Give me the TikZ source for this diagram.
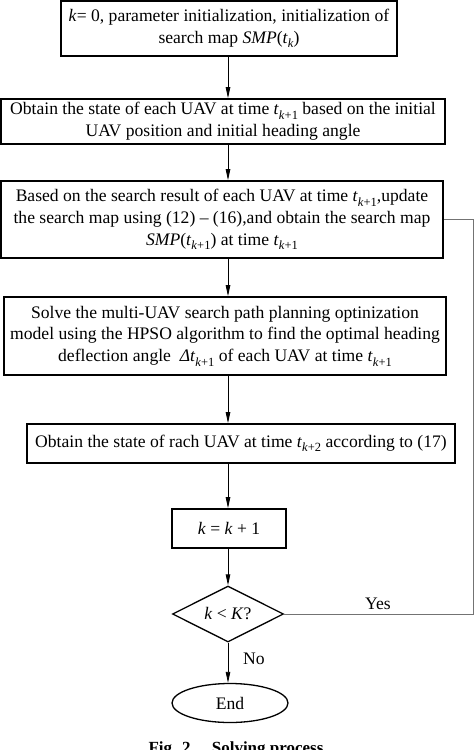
\documentclass[tikz,border=0pt]{standalone}
\usepackage{fontspec}
\setmainfont{Liberation Serif}
\usetikzlibrary{arrows.meta,shapes.geometric}
\newcommand{\iv}[1]{\textit{#1}}
\newcommand{\sub}[1]{\raisebox{-0.25em}{\fontsize{12.5}{14}\selectfont #1}}
\begin{document}
\begin{tikzpicture}[x=1pt,y=-1pt,
  every node/.style={font=\fontsize{17.6}{21.8}\selectfont},
  box/.style={draw, line width=1.6pt, align=center, inner sep=1pt},
  arr/.style={line width=0.8pt, -{Triangle[length=11pt,width=4.5pt]}},
  back/.style={line width=0.8pt, draw=black!55}]
\useasboundingbox (0,0) rectangle (474,750);
\coordinate (col) at (228,0);
\node[box, minimum width=336pt, minimum height=55pt] (b1) at (229,28.5)
  {\iv{k}= 0, parameter initialization, initialization of\\ search map \iv{SMP}(\iv{t}\sub{\iv{k}})};
\node[box, minimum width=444pt, minimum height=45pt] (b2) at (223,121.5)
  {Obtain the state of each UAV at time \iv{t}\sub{\iv{k}+1} based on the initial\\ UAV position and initial heading angle};
\node[box, minimum width=442pt, minimum height=77pt] (b3) at (222,219.5)
  {Based on the search result of each UAV at time \iv{t}\sub{\iv{k}+1},update\\ the search map using (12) – (16),and obtain the search map\\ \iv{SMP}(\iv{t}\sub{\iv{k}+1}) at time \iv{t}\sub{\iv{k}+1}};
\node[box, minimum width=442pt, minimum height=78pt] (b4) at (225,336)
  {Solve the multi-UAV search path planning optinization\\ model using the HPSO algorithm to find the optimal heading\\ deflection angle \ \iv{Δt}\sub{\iv{k}+1} of each UAV at time \iv{t}\sub{\iv{k}+1}};
\node[box, minimum width=428pt, minimum height=39pt] (b5) at (241,443.5)
  {Obtain the state of rach UAV at time \iv{t}\sub{\iv{k}+2} according to (17)};
\node[box, minimum width=114pt, minimum height=39pt] (b6) at (229,528.5)
  {\iv{k} = \iv{k} + 1};
\node[diamond, draw, line width=1.3pt, minimum width=111pt, minimum height=56pt, inner sep=0pt, aspect=2] (d) at (228,614)
  {\iv{k} < \iv{K}?};
\node[ellipse, draw, line width=1.3pt, minimum width=116pt, minimum height=39pt, inner sep=0pt] (e) at (230,703)
  {End};
\draw[arr] (b1.south -| col) -- (b2.north -| col);
\draw[arr] (b2.south -| col) -- (b3.north -| col);
\draw[arr] (b3.south -| col) -- (b4.north -| col);
\draw[arr] (b4.south -| col) -- (b5.north -| col);
\draw[arr] (b5.south -| col) -- (b6.north -| col);
\draw[arr] (b6.south -| col) -- (d.north);
\draw[arr] (d.south) -- (e.north -| d.south);
\node (no) at (254,659) {No};
\coordinate (rc) at (473,0);
\draw[back] (d.east) -- (d.east -| rc) -- (b3.east -| rc) -- (b3.east);
\node (yes) at (378,604) {Yes};
\node[anchor=base, font=\bfseries\fontsize{17}{20}\selectfont] (cap) at (236,753) {Fig. 2\quad\ Solving process};
\end{tikzpicture}
\end{document}
